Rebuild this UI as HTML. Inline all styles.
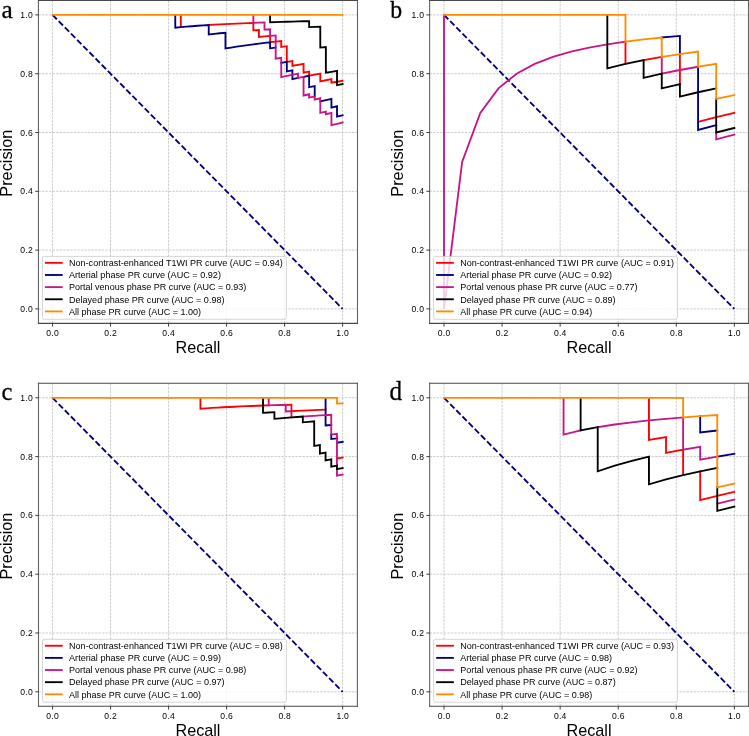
<!DOCTYPE html><html><head><meta charset="utf-8"><style>html,body{margin:0;padding:0;background:#fff;}svg{display:block;}text{font-family:"Liberation Sans",sans-serif;fill:#000;}.pl{font-family:"Liberation Serif",serif;}</style></head><body>
<svg width="749" height="736" viewBox="0 0 749 736">
<defs><filter id="bl" filterUnits="userSpaceOnUse" x="0" y="0" width="749" height="736"><feGaussianBlur stdDeviation="0.3"/></filter></defs>
<g filter="url(#bl)">
<rect width="749" height="736" fill="#fff"/>
<path d="M52.55 323.4V0.45M38.45 308.9H357.5M110.56 323.4V0.45M38.45 250.1H357.5M168.57 323.4V0.45M38.45 191.3H357.5M226.58 323.4V0.45M38.45 132.5H357.5M284.59 323.4V0.45M38.45 73.7H357.5M342.6 323.4V0.45M38.45 14.9H357.5" stroke="#b4b4b4" stroke-width="0.67" stroke-dasharray="2.46 1.06" fill="none"/>
<path d="M52.55 14.9L342.6 308.9" stroke="#000080" stroke-width="1.85" stroke-dasharray="6.11 2.64" fill="none"/>
<path d="M180.84 14.9 L180.84 27.15M208.73 25.04 L214.31 24.7 L219.89 24.38 L225.46 24.09 L231.04 23.81 L236.62 23.55 L242.2 23.3 L247.78 23.07 L253.35 22.85 L253.35 30.37 L258.93 29.98 L258.93 36.95 L264.51 36.41 L270.09 35.9 L270.09 42.25 L275.67 41.63 L281.24 41.03 L281.24 46.86 L286.82 46.18 L286.82 51.65 L286.82 56.9 L286.82 61.94 L292.4 61.02 L292.4 65.78 L297.98 64.83 L303.56 63.9 L303.56 68.36 L303.56 72.65 L309.13 71.64 L309.13 75.73 L314.71 74.7 L320.29 73.7 L320.29 77.56 L320.29 81.29 L325.87 80.23 L331.44 79.21 L331.44 82.75 L337.02 81.72 L342.6 80.72" stroke="#ff0000" stroke-width="1.85" fill="none" stroke-linejoin="miter" stroke-linecap="square"/>
<path d="M175.26 14.9 L175.26 27.68 L180.84 27.15 L186.42 26.66 L192 26.21 L197.57 25.79 L203.15 25.4 L208.73 25.04 L208.73 34.5 L214.31 33.87 L219.89 33.27 L225.46 32.72 L225.46 40.84 L225.46 48.5 L231.04 47.57 L236.62 46.68 L242.2 45.85 L247.78 45.05 L253.35 44.3 L258.93 43.58 L264.51 42.9 L270.09 42.25 L270.09 48.31 L275.67 47.57M281.24 62.9 L286.82 61.94 L286.82 66.78 L286.82 71.44 L292.4 70.37 L292.4 74.79 L292.4 79.05 L297.98 77.9M303.56 76.8 L309.13 75.73 L309.13 79.68 L309.13 83.5 L309.13 87.19 L314.71 86.03 L314.71 89.57 L314.71 92.99 L314.71 96.31M320.29 101.37 L325.87 100.12 L331.44 98.9 L331.44 101.86 L331.44 104.73 L331.44 107.53 L337.02 106.28 L337.02 108.98 L337.02 111.61 L337.02 114.17 L337.02 116.67 L342.6 115.38" stroke="#000080" stroke-width="1.85" fill="none" stroke-linejoin="miter" stroke-linecap="square"/>
<path d="M253.35 14.9 L253.35 22.85 L258.93 22.64 L264.51 22.44 L264.51 29.6 L270.09 29.24 L270.09 35.9 L275.67 35.41 L275.67 41.63 L275.67 47.57 L275.67 53.25 L275.67 58.69 L281.24 57.77 L281.24 62.9 L281.24 67.82 L281.24 72.55 L281.24 77.09 L286.82 75.92 L292.4 74.79 L297.98 73.7 L297.98 77.9 L303.56 76.8 L303.56 80.8 L303.56 84.66 L303.56 88.4 L303.56 92.02 L303.56 95.51 L309.13 94.23 L309.13 97.59 L314.71 96.31 L314.71 99.54 L320.29 98.27 L320.29 101.37 L320.29 104.38 L320.29 107.3 L320.29 110.14 L320.29 112.9 L325.87 111.56 L325.87 114.22 L331.44 112.9 L331.44 115.48 L331.44 117.99 L331.44 120.44 L331.44 122.82 L331.44 125.15 L337.02 123.79 L342.6 122.46" stroke="#c71585" stroke-width="1.85" fill="none" stroke-linejoin="miter" stroke-linecap="square"/>
<path d="M270.09 14.9 L270.09 22.25 L275.67 22.07 L281.24 21.9 L286.82 21.74 L292.4 21.58 L297.98 21.43 L303.56 21.29 L309.13 21.16 L309.13 27.15 L314.71 26.9 L320.29 26.66 L320.29 32.19 L320.29 37.52 L320.29 42.64 L320.29 47.57 L325.87 46.97 L325.87 51.65 L325.87 56.16 L325.87 60.52 L325.87 64.73 L325.87 68.8 L325.87 72.74 L331.44 71.8 L337.02 70.9 L337.02 74.62 L337.02 78.22 L337.02 81.72 L337.02 85.11 L342.6 84.08" stroke="#000000" stroke-width="1.85" fill="none" stroke-linejoin="miter" stroke-linecap="square"/>
<path d="M52.55 14.9 L58.13 14.9 L63.71 14.9 L69.28 14.9 L74.86 14.9 L80.44 14.9 L86.02 14.9 L91.59 14.9 L97.17 14.9 L102.75 14.9 L108.33 14.9 L113.91 14.9 L119.48 14.9 L125.06 14.9 L130.64 14.9 L136.22 14.9 L141.8 14.9 L147.37 14.9 L152.95 14.9 L158.53 14.9 L164.11 14.9 L169.69 14.9 L175.26 14.9 L180.84 14.9 L186.42 14.9 L192 14.9 L197.57 14.9 L203.15 14.9 L208.73 14.9 L214.31 14.9 L219.89 14.9 L225.46 14.9 L231.04 14.9 L236.62 14.9 L242.2 14.9 L247.78 14.9 L253.35 14.9 L258.93 14.9 L264.51 14.9 L270.09 14.9 L275.67 14.9 L281.24 14.9 L286.82 14.9 L292.4 14.9 L297.98 14.9 L303.56 14.9 L309.13 14.9 L314.71 14.9 L320.29 14.9 L325.87 14.9 L331.44 14.9 L337.02 14.9 L342.6 14.9" stroke="#ff8c00" stroke-width="1.85" fill="none" stroke-linejoin="miter" stroke-linecap="square"/>
<rect x="42.45" y="256.4" width="243.9" height="62.9" rx="1.8" fill="#fff" fill-opacity="0.8" stroke="#cccccc" stroke-width="0.8"/>
<path d="M44.95 262.85H62.65" stroke="#ff0000" stroke-width="1.85"/>
<text x="69" y="266.1" font-size="8.3" textLength="213.8" lengthAdjust="spacingAndGlyphs">Non-contrast-enhanced T1WI PR curve (AUC = 0.94)</text>
<path d="M44.95 274.99H62.65" stroke="#000080" stroke-width="1.85"/>
<text x="69" y="278.24" font-size="8.3" textLength="151.94" lengthAdjust="spacingAndGlyphs">Arterial phase PR curve (AUC = 0.92)</text>
<path d="M44.95 287.13H62.65" stroke="#c71585" stroke-width="1.85"/>
<text x="69" y="290.38" font-size="8.3" textLength="177.3" lengthAdjust="spacingAndGlyphs">Portal venous phase PR curve (AUC = 0.93)</text>
<path d="M44.95 299.27H62.65" stroke="#000000" stroke-width="1.85"/>
<text x="69" y="302.52" font-size="8.3" textLength="155.48" lengthAdjust="spacingAndGlyphs">Delayed phase PR curve (AUC = 0.98)</text>
<path d="M44.95 311.41H62.65" stroke="#ff8c00" stroke-width="1.85"/>
<text x="69" y="314.66" font-size="8.3" textLength="132.06" lengthAdjust="spacingAndGlyphs">All phase PR curve (AUC = 1.00)</text>
<path d="M38.45 -0.1V323.95M357.5 -0.1V323.95" fill="none" stroke="#646464" stroke-width="1.1"/>
<path d="M37.9 0.45H358.05M37.9 323.4H358.05" fill="none" stroke="#4a4a4a" stroke-width="1.1"/>
<path d="M52.55 323.4V326.6M38.45 308.9H35.25M110.56 323.4V326.6M38.45 250.1H35.25M168.57 323.4V326.6M38.45 191.3H35.25M226.58 323.4V326.6M38.45 132.5H35.25M284.59 323.4V326.6M38.45 73.7H35.25M342.6 323.4V326.6M38.45 14.9H35.25" stroke="#262626" stroke-width="0.9"/>
<text x="52.55" y="336" font-size="8.6" text-anchor="middle" textLength="12.5" lengthAdjust="spacing">0.0</text>
<text x="32.8" y="311.95" font-size="8.6" text-anchor="end" textLength="12.5" lengthAdjust="spacing">0.0</text>
<text x="110.56" y="336" font-size="8.6" text-anchor="middle" textLength="12.5" lengthAdjust="spacing">0.2</text>
<text x="32.8" y="253.15" font-size="8.6" text-anchor="end" textLength="12.5" lengthAdjust="spacing">0.2</text>
<text x="168.57" y="336" font-size="8.6" text-anchor="middle" textLength="12.5" lengthAdjust="spacing">0.4</text>
<text x="32.8" y="194.35" font-size="8.6" text-anchor="end" textLength="12.5" lengthAdjust="spacing">0.4</text>
<text x="226.58" y="336" font-size="8.6" text-anchor="middle" textLength="12.5" lengthAdjust="spacing">0.6</text>
<text x="32.8" y="135.55" font-size="8.6" text-anchor="end" textLength="12.5" lengthAdjust="spacing">0.6</text>
<text x="284.59" y="336" font-size="8.6" text-anchor="middle" textLength="12.5" lengthAdjust="spacing">0.8</text>
<text x="32.8" y="76.75" font-size="8.6" text-anchor="end" textLength="12.5" lengthAdjust="spacing">0.8</text>
<text x="342.6" y="336" font-size="8.6" text-anchor="middle" textLength="12.5" lengthAdjust="spacing">1.0</text>
<text x="32.8" y="17.95" font-size="8.6" text-anchor="end" textLength="12.5" lengthAdjust="spacing">1.0</text>
<text x="197.97" y="352.6" font-size="16.2" text-anchor="middle">Recall</text>
<text transform="translate(12.2,163.22) rotate(-90)" font-size="16.3" text-anchor="middle">Precision</text>
<path d="M444 323.4V0.45M429.6 308.9H748.5M502.07 323.4V0.45M429.6 250.1H748.5M560.14 323.4V0.45M429.6 191.3H748.5M618.21 323.4V0.45M429.6 132.5H748.5M676.28 323.4V0.45M429.6 73.7H748.5M734.35 323.4V0.45M429.6 14.9H748.5" stroke="#b4b4b4" stroke-width="0.67" stroke-dasharray="2.46 1.06" fill="none"/>
<path d="M444 14.9L734.35 308.9" stroke="#000080" stroke-width="1.85" stroke-dasharray="6.11 2.64" fill="none"/>
<path d="M625.47 41.63 L625.47 63.9M643.62 60.13 L661.76 56.9M679.91 54.1 L679.91 70.03 L679.91 84.08M698.06 121.81 L716.2 117.16 L734.35 112.9" stroke="#ff0000" stroke-width="1.85" fill="none" stroke-linejoin="miter" stroke-linecap="square"/>
<path d="M661.76 37.52 L679.91 35.9 L679.91 54.1M698.06 66.78 L698.06 80.23 L698.06 92.27 L698.06 103.1 L698.06 112.9 L698.06 121.81 L698.06 129.94 L716.2 125.15" stroke="#000080" stroke-width="1.85" fill="none" stroke-linejoin="miter" stroke-linecap="square"/>
<path d="M444 14.9 L444 308.9 L462.15 161.9 L480.29 112.9 L498.44 88.4 L516.59 73.7 L534.73 63.9 L552.88 56.9 L571.03 51.65 L589.17 47.57 L607.32 44.3 L625.47 41.63M661.76 56.9 L661.76 73.7 L679.91 70.03 L698.06 66.78M716.2 132.5 L716.2 139.28 L734.35 134.68" stroke="#c71585" stroke-width="1.85" fill="none" stroke-linejoin="miter" stroke-linecap="square"/>
<path d="M607.32 14.9 L607.32 44.3 L607.32 68.36 L625.47 63.9 L643.62 60.13 L643.62 77.9 L661.76 73.7 L661.76 88.4 L679.91 84.08 L679.91 96.57 L698.06 92.27 L716.2 88.4M716.2 98.9 L716.2 108.44 L716.2 117.16 L716.2 125.15 L716.2 132.5 L734.35 127.98" stroke="#000000" stroke-width="1.85" fill="none" stroke-linejoin="miter" stroke-linecap="square"/>
<path d="M444 14.9 L462.15 14.9 L480.29 14.9 L498.44 14.9 L516.59 14.9 L534.73 14.9 L552.88 14.9 L571.03 14.9 L589.17 14.9 L607.32 14.9 L625.47 14.9 L625.47 41.63 L643.62 39.4 L661.76 37.52 L661.76 56.9 L679.91 54.1 L698.06 51.65 L698.06 66.78 L716.2 63.9 L716.2 76.8 L716.2 88.4 L716.2 98.9 L734.35 95.08" stroke="#ff8c00" stroke-width="1.85" fill="none" stroke-linejoin="miter" stroke-linecap="square"/>
<rect x="433.6" y="256.4" width="243.9" height="62.9" rx="1.8" fill="#fff" fill-opacity="0.8" stroke="#cccccc" stroke-width="0.8"/>
<path d="M436.1 262.85H453.8" stroke="#ff0000" stroke-width="1.85"/>
<text x="460.15" y="266.1" font-size="8.3" textLength="213.8" lengthAdjust="spacingAndGlyphs">Non-contrast-enhanced T1WI PR curve (AUC = 0.91)</text>
<path d="M436.1 274.99H453.8" stroke="#000080" stroke-width="1.85"/>
<text x="460.15" y="278.24" font-size="8.3" textLength="151.94" lengthAdjust="spacingAndGlyphs">Arterial phase PR curve (AUC = 0.92)</text>
<path d="M436.1 287.13H453.8" stroke="#c71585" stroke-width="1.85"/>
<text x="460.15" y="290.38" font-size="8.3" textLength="177.3" lengthAdjust="spacingAndGlyphs">Portal venous phase PR curve (AUC = 0.77)</text>
<path d="M436.1 299.27H453.8" stroke="#000000" stroke-width="1.85"/>
<text x="460.15" y="302.52" font-size="8.3" textLength="155.48" lengthAdjust="spacingAndGlyphs">Delayed phase PR curve (AUC = 0.89)</text>
<path d="M436.1 311.41H453.8" stroke="#ff8c00" stroke-width="1.85"/>
<text x="460.15" y="314.66" font-size="8.3" textLength="132.06" lengthAdjust="spacingAndGlyphs">All phase PR curve (AUC = 0.94)</text>
<path d="M429.6 -0.1V323.95M748.5 -0.1V323.95" fill="none" stroke="#646464" stroke-width="1.1"/>
<path d="M429.05 0.45H749.05M429.05 323.4H749.05" fill="none" stroke="#4a4a4a" stroke-width="1.1"/>
<path d="M444 323.4V326.6M429.6 308.9H426.4M502.07 323.4V326.6M429.6 250.1H426.4M560.14 323.4V326.6M429.6 191.3H426.4M618.21 323.4V326.6M429.6 132.5H426.4M676.28 323.4V326.6M429.6 73.7H426.4M734.35 323.4V326.6M429.6 14.9H426.4" stroke="#262626" stroke-width="0.9"/>
<text x="444" y="336" font-size="8.6" text-anchor="middle" textLength="12.5" lengthAdjust="spacing">0.0</text>
<text x="423.95" y="311.95" font-size="8.6" text-anchor="end" textLength="12.5" lengthAdjust="spacing">0.0</text>
<text x="502.07" y="336" font-size="8.6" text-anchor="middle" textLength="12.5" lengthAdjust="spacing">0.2</text>
<text x="423.95" y="253.15" font-size="8.6" text-anchor="end" textLength="12.5" lengthAdjust="spacing">0.2</text>
<text x="560.14" y="336" font-size="8.6" text-anchor="middle" textLength="12.5" lengthAdjust="spacing">0.4</text>
<text x="423.95" y="194.35" font-size="8.6" text-anchor="end" textLength="12.5" lengthAdjust="spacing">0.4</text>
<text x="618.21" y="336" font-size="8.6" text-anchor="middle" textLength="12.5" lengthAdjust="spacing">0.6</text>
<text x="423.95" y="135.55" font-size="8.6" text-anchor="end" textLength="12.5" lengthAdjust="spacing">0.6</text>
<text x="676.28" y="336" font-size="8.6" text-anchor="middle" textLength="12.5" lengthAdjust="spacing">0.8</text>
<text x="423.95" y="76.75" font-size="8.6" text-anchor="end" textLength="12.5" lengthAdjust="spacing">0.8</text>
<text x="734.35" y="336" font-size="8.6" text-anchor="middle" textLength="12.5" lengthAdjust="spacing">1.0</text>
<text x="423.95" y="17.95" font-size="8.6" text-anchor="end" textLength="12.5" lengthAdjust="spacing">1.0</text>
<text x="589.05" y="352.6" font-size="16.2" text-anchor="middle">Recall</text>
<text transform="translate(403.35,163.22) rotate(-90)" font-size="16.3" text-anchor="middle">Precision</text>
<path d="M52.55 706.3V383.3M38.5 691.8H357.4M110.57 706.3V383.3M38.5 633H357.4M168.59 706.3V383.3M38.5 574.2H357.4M226.61 706.3V383.3M38.5 515.4H357.4M284.63 706.3V383.3M38.5 456.6H357.4M342.65 706.3V383.3M38.5 397.8H357.4" stroke="#b4b4b4" stroke-width="0.67" stroke-dasharray="2.46 1.06" fill="none"/>
<path d="M52.55 397.8L342.65 691.8" stroke="#000080" stroke-width="1.85" stroke-dasharray="6.11 2.64" fill="none"/>
<path d="M200.44 397.8 L200.44 408.69 L206.13 408.3 L211.82 407.94 L217.51 407.6 L223.2 407.28 L228.88 406.99 L234.57 406.71 L240.26 406.45 L245.95 406.2 L251.64 405.97 L257.33 405.75 L263.01 405.54 L268.7 405.34M285.77 404.8 L291.46 404.64 L291.46 411.16 L297.14 410.87 L302.83 410.58 L308.52 410.31 L314.21 410.05 L319.9 409.8 L325.58 409.56M336.96 458.47 L342.65 457.52" stroke="#ff0000" stroke-width="1.85" fill="none" stroke-linejoin="miter" stroke-linecap="square"/>
<path d="M325.58 397.8 L325.58 403.8 L325.58 409.56 L325.58 415.09 L325.58 420.42 L325.58 425.54 L331.27 425.02M331.27 434.55 L331.27 439.06 L336.96 438.35M336.96 442.65 L342.65 441.9" stroke="#000080" stroke-width="1.85" fill="none" stroke-linejoin="miter" stroke-linecap="square"/>
<path d="M268.7 397.8 L268.7 405.34 L274.39 405.15 L280.08 404.97 L285.77 404.8 L285.77 411.47 L291.46 411.16 L291.46 417.4M302.83 416.57 L308.52 416.18 L314.21 415.8 L319.9 415.44 L325.58 415.09 L331.27 414.76 L331.27 419.99 L331.27 425.02 L331.27 429.87 L331.27 434.55 L336.96 433.9 L336.96 438.35 L336.96 442.65 L336.96 446.8 L336.96 450.82 L336.96 454.7 L336.96 458.47 L336.96 462.11 L336.96 465.65M336.96 469.07 L336.96 472.4 L336.96 475.62 L342.65 474.5" stroke="#c71585" stroke-width="1.85" fill="none" stroke-linejoin="miter" stroke-linecap="square"/>
<path d="M263.01 397.8 L263.01 405.54 L263.01 412.88 L268.7 412.5 L274.39 412.14 L274.39 418.8 L280.08 418.31 L285.77 417.85 L291.46 417.4 L297.14 416.97 L302.83 416.57 L302.83 422.3 L308.52 421.8 L314.21 421.32 L314.21 426.62 L314.21 431.72 L314.21 436.63 L314.21 441.36 L314.21 445.91 L319.9 445.05 L319.9 449.38 L319.9 453.56 L325.58 452.61 L325.58 456.6 L325.58 460.46 L331.27 459.44 L331.27 463.13 L331.27 466.71 L336.96 465.65 L336.96 469.07 L342.65 468.01" stroke="#000000" stroke-width="1.85" fill="none" stroke-linejoin="miter" stroke-linecap="square"/>
<path d="M52.55 397.8 L58.24 397.8 L63.93 397.8 L69.61 397.8 L75.3 397.8 L80.99 397.8 L86.68 397.8 L92.37 397.8 L98.06 397.8 L103.74 397.8 L109.43 397.8 L115.12 397.8 L120.81 397.8 L126.5 397.8 L132.19 397.8 L137.87 397.8 L143.56 397.8 L149.25 397.8 L154.94 397.8 L160.63 397.8 L166.31 397.8 L172 397.8 L177.69 397.8 L183.38 397.8 L189.07 397.8 L194.76 397.8 L200.44 397.8 L206.13 397.8 L211.82 397.8 L217.51 397.8 L223.2 397.8 L228.88 397.8 L234.57 397.8 L240.26 397.8 L245.95 397.8 L251.64 397.8 L257.33 397.8 L263.01 397.8 L268.7 397.8 L274.39 397.8 L280.08 397.8 L285.77 397.8 L291.46 397.8 L297.14 397.8 L302.83 397.8 L308.52 397.8 L314.21 397.8 L319.9 397.8 L325.58 397.8 L331.27 397.8 L336.96 397.8 L336.96 403.56 L342.65 403.45" stroke="#ff8c00" stroke-width="1.85" fill="none" stroke-linejoin="miter" stroke-linecap="square"/>
<rect x="42.5" y="639.3" width="243.9" height="62.9" rx="1.8" fill="#fff" fill-opacity="0.8" stroke="#cccccc" stroke-width="0.8"/>
<path d="M45 645.75H62.7" stroke="#ff0000" stroke-width="1.85"/>
<text x="69.05" y="649" font-size="8.3" textLength="213.8" lengthAdjust="spacingAndGlyphs">Non-contrast-enhanced T1WI PR curve (AUC = 0.98)</text>
<path d="M45 657.89H62.7" stroke="#000080" stroke-width="1.85"/>
<text x="69.05" y="661.14" font-size="8.3" textLength="151.94" lengthAdjust="spacingAndGlyphs">Arterial phase PR curve (AUC = 0.99)</text>
<path d="M45 670.03H62.7" stroke="#c71585" stroke-width="1.85"/>
<text x="69.05" y="673.28" font-size="8.3" textLength="177.3" lengthAdjust="spacingAndGlyphs">Portal venous phase PR curve (AUC = 0.98)</text>
<path d="M45 682.17H62.7" stroke="#000000" stroke-width="1.85"/>
<text x="69.05" y="685.42" font-size="8.3" textLength="155.48" lengthAdjust="spacingAndGlyphs">Delayed phase PR curve (AUC = 0.97)</text>
<path d="M45 694.31H62.7" stroke="#ff8c00" stroke-width="1.85"/>
<text x="69.05" y="697.56" font-size="8.3" textLength="132.06" lengthAdjust="spacingAndGlyphs">All phase PR curve (AUC = 1.00)</text>
<path d="M38.5 382.75V706.85M357.4 382.75V706.85" fill="none" stroke="#646464" stroke-width="1.1"/>
<path d="M37.95 383.3H357.95M37.95 706.3H357.95" fill="none" stroke="#4a4a4a" stroke-width="1.1"/>
<path d="M52.55 706.3V709.5M38.5 691.8H35.3M110.57 706.3V709.5M38.5 633H35.3M168.59 706.3V709.5M38.5 574.2H35.3M226.61 706.3V709.5M38.5 515.4H35.3M284.63 706.3V709.5M38.5 456.6H35.3M342.65 706.3V709.5M38.5 397.8H35.3" stroke="#262626" stroke-width="0.9"/>
<text x="52.55" y="718.9" font-size="8.6" text-anchor="middle" textLength="12.5" lengthAdjust="spacing">0.0</text>
<text x="32.85" y="694.85" font-size="8.6" text-anchor="end" textLength="12.5" lengthAdjust="spacing">0.0</text>
<text x="110.57" y="718.9" font-size="8.6" text-anchor="middle" textLength="12.5" lengthAdjust="spacing">0.2</text>
<text x="32.85" y="636.05" font-size="8.6" text-anchor="end" textLength="12.5" lengthAdjust="spacing">0.2</text>
<text x="168.59" y="718.9" font-size="8.6" text-anchor="middle" textLength="12.5" lengthAdjust="spacing">0.4</text>
<text x="32.85" y="577.25" font-size="8.6" text-anchor="end" textLength="12.5" lengthAdjust="spacing">0.4</text>
<text x="226.61" y="718.9" font-size="8.6" text-anchor="middle" textLength="12.5" lengthAdjust="spacing">0.6</text>
<text x="32.85" y="518.45" font-size="8.6" text-anchor="end" textLength="12.5" lengthAdjust="spacing">0.6</text>
<text x="284.63" y="718.9" font-size="8.6" text-anchor="middle" textLength="12.5" lengthAdjust="spacing">0.8</text>
<text x="32.85" y="459.65" font-size="8.6" text-anchor="end" textLength="12.5" lengthAdjust="spacing">0.8</text>
<text x="342.65" y="718.9" font-size="8.6" text-anchor="middle" textLength="12.5" lengthAdjust="spacing">1.0</text>
<text x="32.85" y="400.85" font-size="8.6" text-anchor="end" textLength="12.5" lengthAdjust="spacing">1.0</text>
<text x="197.95" y="735.5" font-size="16.2" text-anchor="middle">Recall</text>
<text transform="translate(12.25,546.1) rotate(-90)" font-size="16.3" text-anchor="middle">Precision</text>
<path d="M444 706.3V383.3M429.65 691.8H748.5M502.07 706.3V383.3M429.65 633H748.5M560.14 706.3V383.3M429.65 574.2H748.5M618.21 706.3V383.3M429.65 515.4H748.5M676.28 706.3V383.3M429.65 456.6H748.5M734.35 706.3V383.3M429.65 397.8H748.5" stroke="#b4b4b4" stroke-width="0.67" stroke-dasharray="2.46 1.06" fill="none"/>
<path d="M444 397.8L734.35 691.8" stroke="#000080" stroke-width="1.85" stroke-dasharray="6.11 2.64" fill="none"/>
<path d="M648.95 397.8 L648.95 420.42 L648.95 439.8 L666.03 437 L666.03 452.93 L683.11 449.68 L683.11 463.13 L683.11 475.17M700.19 471.3 L700.19 481.8 L700.19 491.35 L700.19 500.06 L717.27 495.8 L734.35 491.88" stroke="#ff0000" stroke-width="1.85" fill="none" stroke-linejoin="miter" stroke-linecap="square"/>
<path d="M700.19 416.18 L700.19 432.39 L717.27 430.47M717.27 456.6 L734.35 453.8" stroke="#000080" stroke-width="1.85" fill="none" stroke-linejoin="miter" stroke-linecap="square"/>
<path d="M563.56 397.8 L563.56 434.55 L580.63 430.47M597.72 427.2 L614.79 424.53 L631.87 422.3 L648.95 420.42 L666.03 418.8 L683.11 417.4 L683.11 434.55 L683.11 449.68 L700.19 446.8 L700.19 459.69 L717.27 456.6M717.27 503.64 L734.35 499.57" stroke="#c71585" stroke-width="1.85" fill="none" stroke-linejoin="miter" stroke-linecap="square"/>
<path d="M580.63 397.8 L580.63 430.47 L597.72 427.2 L597.72 451.25 L597.72 471.3 L614.79 465.65 L631.87 460.8 L648.95 456.6 L648.95 471.3 L648.95 484.27 L666.03 479.47 L683.11 475.17 L700.19 471.3 L717.27 467.8M717.27 487.28 L717.27 495.8 L717.27 503.64 L717.27 510.88 L734.35 506.69" stroke="#000000" stroke-width="1.85" fill="none" stroke-linejoin="miter" stroke-linecap="square"/>
<path d="M444 397.8 L461.08 397.8 L478.16 397.8 L495.24 397.8 L512.32 397.8 L529.4 397.8 L546.48 397.8 L563.56 397.8 L580.63 397.8 L597.72 397.8 L614.79 397.8 L631.87 397.8 L648.95 397.8 L666.03 397.8 L683.11 397.8 L683.11 417.4 L700.19 416.18 L717.27 415.09 L717.27 430.47 L717.27 444.22 L717.27 456.6 L717.27 467.8 L717.27 477.98 L717.27 487.28 L734.35 483.55" stroke="#ff8c00" stroke-width="1.85" fill="none" stroke-linejoin="miter" stroke-linecap="square"/>
<rect x="433.65" y="639.3" width="243.9" height="62.9" rx="1.8" fill="#fff" fill-opacity="0.8" stroke="#cccccc" stroke-width="0.8"/>
<path d="M436.15 645.75H453.85" stroke="#ff0000" stroke-width="1.85"/>
<text x="460.2" y="649" font-size="8.3" textLength="213.8" lengthAdjust="spacingAndGlyphs">Non-contrast-enhanced T1WI PR curve (AUC = 0.93)</text>
<path d="M436.15 657.89H453.85" stroke="#000080" stroke-width="1.85"/>
<text x="460.2" y="661.14" font-size="8.3" textLength="151.94" lengthAdjust="spacingAndGlyphs">Arterial phase PR curve (AUC = 0.98)</text>
<path d="M436.15 670.03H453.85" stroke="#c71585" stroke-width="1.85"/>
<text x="460.2" y="673.28" font-size="8.3" textLength="177.3" lengthAdjust="spacingAndGlyphs">Portal venous phase PR curve (AUC = 0.92)</text>
<path d="M436.15 682.17H453.85" stroke="#000000" stroke-width="1.85"/>
<text x="460.2" y="685.42" font-size="8.3" textLength="155.48" lengthAdjust="spacingAndGlyphs">Delayed phase PR curve (AUC = 0.87)</text>
<path d="M436.15 694.31H453.85" stroke="#ff8c00" stroke-width="1.85"/>
<text x="460.2" y="697.56" font-size="8.3" textLength="132.06" lengthAdjust="spacingAndGlyphs">All phase PR curve (AUC = 0.98)</text>
<path d="M429.65 382.75V706.85M748.5 382.75V706.85" fill="none" stroke="#646464" stroke-width="1.1"/>
<path d="M429.1 383.3H749.05M429.1 706.3H749.05" fill="none" stroke="#4a4a4a" stroke-width="1.1"/>
<path d="M444 706.3V709.5M429.65 691.8H426.45M502.07 706.3V709.5M429.65 633H426.45M560.14 706.3V709.5M429.65 574.2H426.45M618.21 706.3V709.5M429.65 515.4H426.45M676.28 706.3V709.5M429.65 456.6H426.45M734.35 706.3V709.5M429.65 397.8H426.45" stroke="#262626" stroke-width="0.9"/>
<text x="444" y="718.9" font-size="8.6" text-anchor="middle" textLength="12.5" lengthAdjust="spacing">0.0</text>
<text x="424" y="694.85" font-size="8.6" text-anchor="end" textLength="12.5" lengthAdjust="spacing">0.0</text>
<text x="502.07" y="718.9" font-size="8.6" text-anchor="middle" textLength="12.5" lengthAdjust="spacing">0.2</text>
<text x="424" y="636.05" font-size="8.6" text-anchor="end" textLength="12.5" lengthAdjust="spacing">0.2</text>
<text x="560.14" y="718.9" font-size="8.6" text-anchor="middle" textLength="12.5" lengthAdjust="spacing">0.4</text>
<text x="424" y="577.25" font-size="8.6" text-anchor="end" textLength="12.5" lengthAdjust="spacing">0.4</text>
<text x="618.21" y="718.9" font-size="8.6" text-anchor="middle" textLength="12.5" lengthAdjust="spacing">0.6</text>
<text x="424" y="518.45" font-size="8.6" text-anchor="end" textLength="12.5" lengthAdjust="spacing">0.6</text>
<text x="676.28" y="718.9" font-size="8.6" text-anchor="middle" textLength="12.5" lengthAdjust="spacing">0.8</text>
<text x="424" y="459.65" font-size="8.6" text-anchor="end" textLength="12.5" lengthAdjust="spacing">0.8</text>
<text x="734.35" y="718.9" font-size="8.6" text-anchor="middle" textLength="12.5" lengthAdjust="spacing">1.0</text>
<text x="424" y="400.85" font-size="8.6" text-anchor="end" textLength="12.5" lengthAdjust="spacing">1.0</text>
<text x="589.08" y="735.5" font-size="16.2" text-anchor="middle">Recall</text>
<text transform="translate(403.4,546.1) rotate(-90)" font-size="16.3" text-anchor="middle">Precision</text>
<text class="pl" transform="translate(1.5,17.9) scale(1.0,1)" font-size="25.3" stroke="#000" stroke-width="0.3">a</text>
<text class="pl" transform="translate(390.2,18.3) scale(0.93,1)" font-size="25.6" stroke="#000" stroke-width="0.3">b</text>
<text class="pl" transform="translate(1.6,399.6) scale(0.96,1)" font-size="25.7" stroke="#000" stroke-width="0.3">c</text>
<text class="pl" transform="translate(389.5,400.2) scale(0.945,1)" font-size="26.6" stroke="#000" stroke-width="0.3">d</text>
</g>
</svg></body></html>
